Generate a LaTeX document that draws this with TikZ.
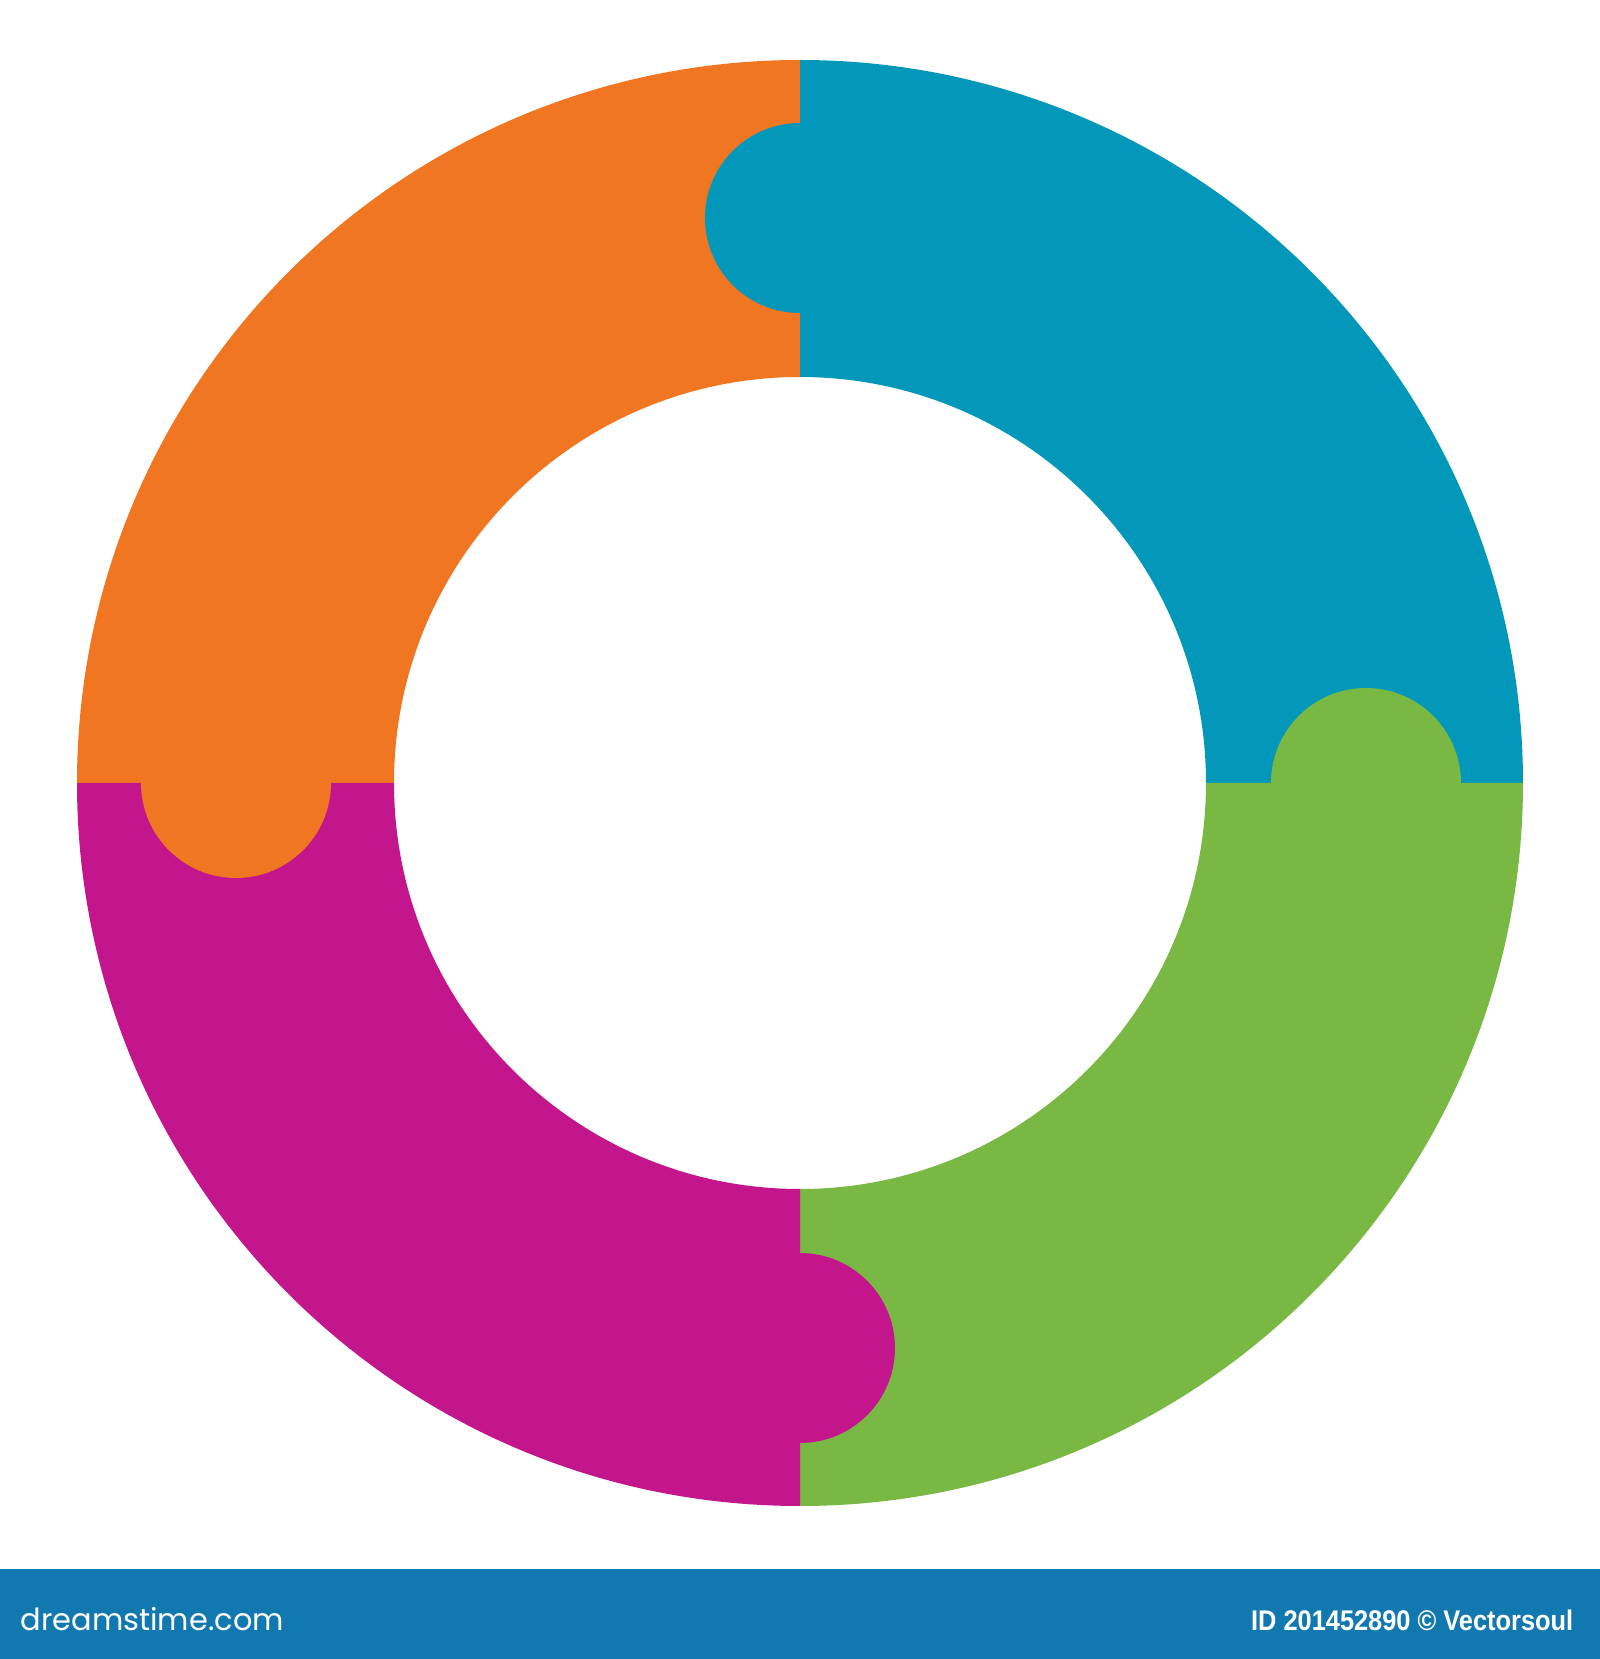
\documentclass[tikz,border=0pt]{standalone}
\usepackage{fontspec}
\setmainfont{Liberation Sans}
\newfontfamily\logofont{Poppins}
\definecolor{pOrange}{RGB}{240,118,34}
\definecolor{pBlue}{RGB}{3,152,186}
\definecolor{pGreen}{RGB}{120,184,67}
\definecolor{pMagenta}{RGB}{196,22,140}
\definecolor{pBanner}{RGB}{18,121,176}
\begin{document}
\begin{tikzpicture}[x=0.01cm,y=0.01cm,
  piece/.style={draw=none},
  bannertext/.style={text=white,inner sep=0pt}]
\useasboundingbox (0,0) rectangle (1600,1659);
\fill[white] (0,0) rectangle (1600,1659);
% ring centre (800,876), outer 723, inner 406
\coordinate (C) at (800,876);
% orange: 90..180
\fill[pOrange,piece] (800,1599) arc[start angle=90,end angle=180,radius=723]
  -- (394,876) arc[start angle=180,end angle=90,radius=406] -- cycle;
% blue: 0..90
\fill[pBlue,piece] (1523,876) arc[start angle=0,end angle=90,radius=723]
  -- (800,1282) arc[start angle=90,end angle=0,radius=406] -- cycle;
% green: 270..360
\fill[pGreen,piece] (800,153) arc[start angle=270,end angle=360,radius=723]
  -- (1206,876) arc[start angle=360,end angle=270,radius=406] -- cycle;
% magenta: 180..270
\fill[pMagenta,piece] (77,876) arc[start angle=180,end angle=270,radius=723]
  -- (800,470) arc[start angle=270,end angle=180,radius=406] -- cycle;
% tabs
\fill[pBlue] (800,1441) circle[radius=95];
\fill[pGreen] (1366,876) circle[radius=95];
\fill[pMagenta] (800,311) circle[radius=95];
\fill[pOrange] (236,876) circle[radius=95];
% banner
\fill[pBanner] (0,0) rectangle (1600,90);
\node[bannertext,anchor=base west] (logo) at (20,29)
  {\resizebox{2.63cm}{!}{\logofont dreamstime.com}};
\node[bannertext,anchor=base east] (credit) at (1574,29)
  {\scalebox{1}[1.12]{\resizebox{3.22cm}{!}{\bfseries ID 201452890 © Vectorsoul}}};
\end{tikzpicture}
\end{document}
